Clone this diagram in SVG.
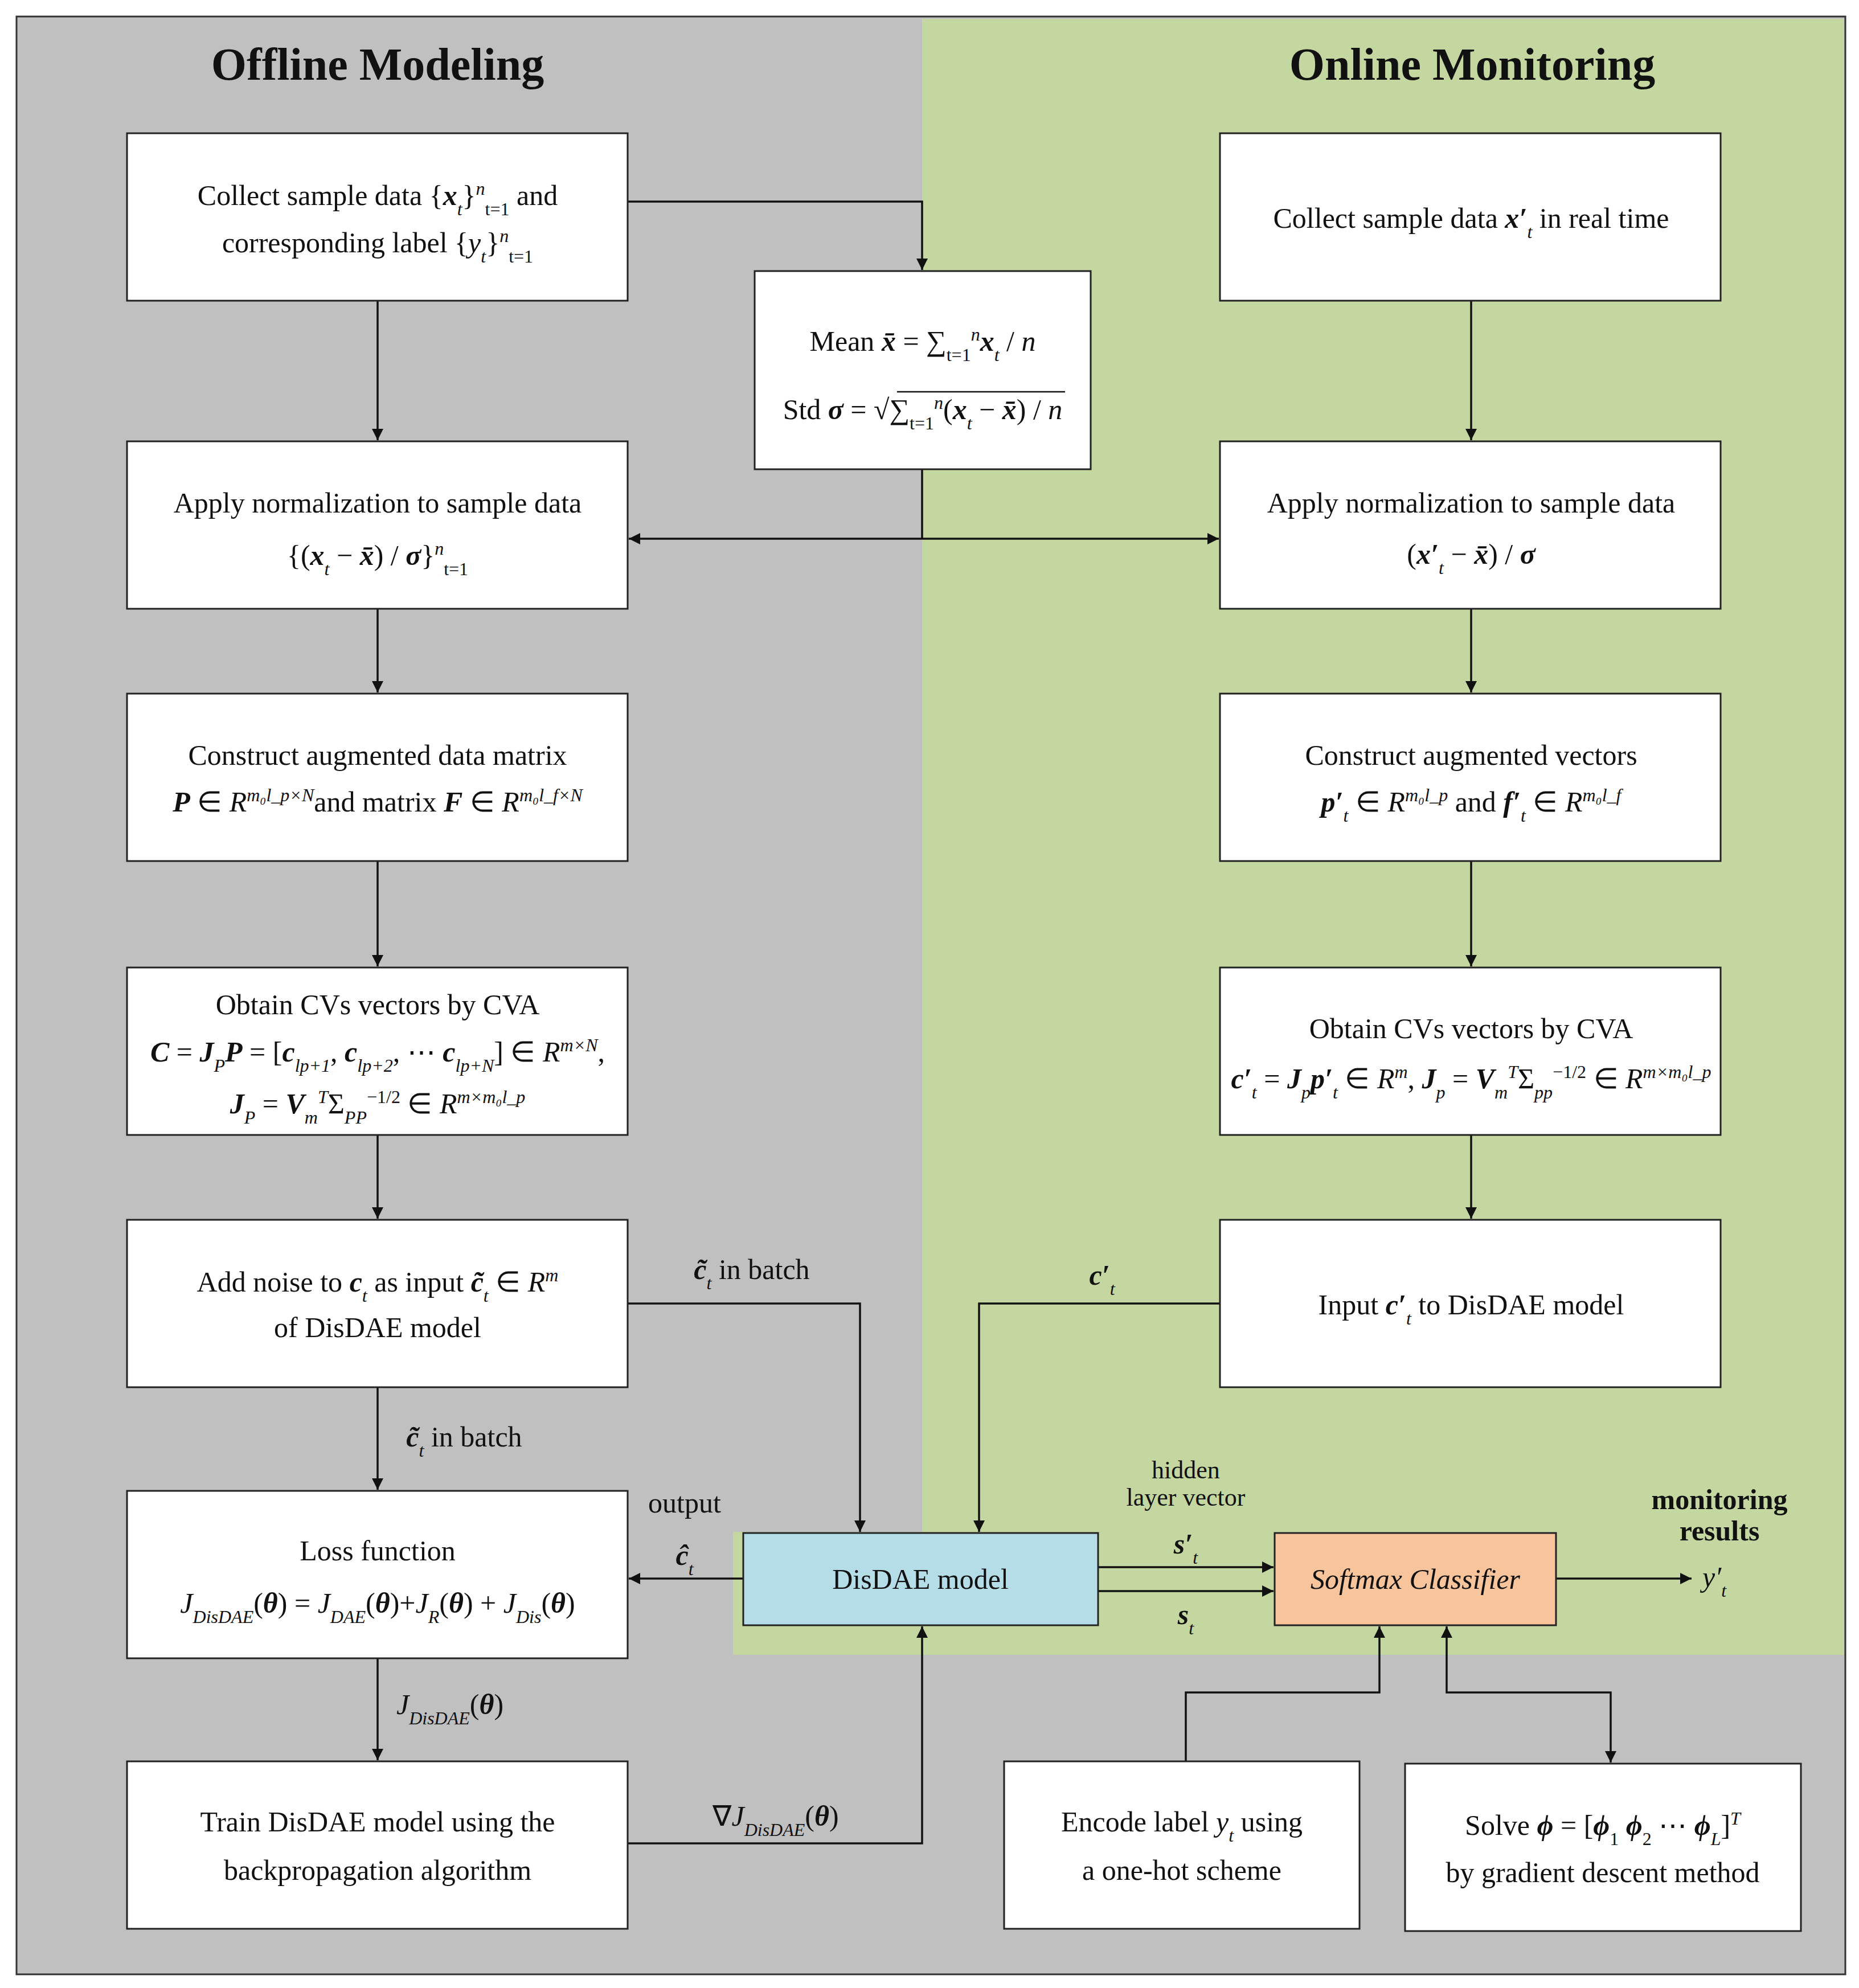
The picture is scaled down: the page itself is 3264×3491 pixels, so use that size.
<svg xmlns="http://www.w3.org/2000/svg" width="3264" height="3491" viewBox="0 0 3264 3491">
<style>
text{font-family:"Liberation Serif","Times New Roman",serif;font-size:50px;fill:#111;text-anchor:middle}
.t{font-size:80px;font-weight:bold}
.b{font-weight:bold;font-style:italic}
.i{font-style:italic}
.s{font-size:32px}
.h{font-size:44px}
.box{fill:#fff;stroke:#222;stroke-width:3}
.c{fill:none;stroke:#111;stroke-width:3.5}
</style>
<defs>
<marker id="a" viewBox="0 0 10 10" refX="10" refY="5" markerWidth="24" markerHeight="20" markerUnits="userSpaceOnUse" orient="auto-start-reverse"><path d="M0,0L10,5L0,10z" fill="#111"/></marker>
</defs>
<rect x="29" y="29" width="3211" height="3438" fill="#c0c0c0" stroke="#333" stroke-width="3"/>
<path d="M1619,33H3238V2906H1287V2690H1619z" fill="#c5d7a1"/>
<text class="t" x="663" y="140">Offline Modeling</text>
<text class="t" x="2585" y="140">Online Monitoring</text>
<g id="connectors">
<path class="c" d="M1102,354H1619V474" marker-end="url(#a)"/>
<path class="c" d="M663,528V773" marker-end="url(#a)"/>
<path class="c" d="M1619,824V946"/>
<path class="c" d="M1104,946H2140" marker-start="url(#a)" marker-end="url(#a)"/>
<path class="c" d="M663,1069V1216" marker-end="url(#a)"/>
<path class="c" d="M663,1512V1697" marker-end="url(#a)"/>
<path class="c" d="M663,1993V2140" marker-end="url(#a)"/>
<path class="c" d="M663,2436V2616" marker-end="url(#a)"/>
<path class="c" d="M663,2912V3091" marker-end="url(#a)"/>
<path class="c" d="M2583,528V773" marker-end="url(#a)"/>
<path class="c" d="M2583,1069V1216" marker-end="url(#a)"/>
<path class="c" d="M2583,1512V1697" marker-end="url(#a)"/>
<path class="c" d="M2583,1993V2140" marker-end="url(#a)"/>
<path class="c" d="M1102,2289H1510V2690" marker-end="url(#a)"/>
<path class="c" d="M2142,2289H1719V2690" marker-end="url(#a)"/>
<path class="c" d="M1305,2772H1104" marker-end="url(#a)"/>
<path class="c" d="M1102,3237H1619V2856" marker-end="url(#a)"/>
<path class="c" d="M1928,2752H2236" marker-end="url(#a)"/>
<path class="c" d="M1928,2794H2236" marker-end="url(#a)"/>
<path class="c" d="M2732,2772H2970" marker-end="url(#a)"/>
<path class="c" d="M2082,3093V2972H2422V2856" marker-end="url(#a)"/>
<path class="c" d="M2540,2856V2972H2828V3095" marker-start="url(#a)" marker-end="url(#a)"/>
<text x="1320" y="2246"><tspan class="b">c̃</tspan><tspan class="i s" baseline-shift="sub">t</tspan> in batch</text>
<text x="1935" y="2256"><tspan class="b">c′</tspan><tspan class="i s" baseline-shift="sub">t</tspan></text>
<text x="815" y="2540"><tspan class="b">c̃</tspan><tspan class="i s" baseline-shift="sub">t</tspan> in batch</text>
<text x="1202" y="2656">output</text>
<text x="1202" y="2748"><tspan class="b">ĉ</tspan><tspan class="i s" baseline-shift="sub">t</tspan></text>
<text x="790" y="3010"><tspan class="i">J</tspan><tspan class="i s" baseline-shift="sub">DisDAE</tspan>(<tspan class="b">θ</tspan>)</text>
<text x="1362" y="3206">∇<tspan class="i">J</tspan><tspan class="i s" baseline-shift="sub">DisDAE</tspan>(<tspan class="b">θ</tspan>)</text>
<text class="h" x="2082" y="2596">hidden</text>
<text class="h" x="2082" y="2644">layer vector</text>
<text x="2082" y="2728"><tspan class="b">s′</tspan><tspan class="i s" baseline-shift="sub">t</tspan></text>
<text x="2082" y="2852"><tspan class="b">s</tspan><tspan class="i s" baseline-shift="sub">t</tspan></text>
<text x="3019" y="2650" font-weight="bold">monitoring</text>
<text x="3019" y="2705" font-weight="bold">results</text>
<text x="3010" y="2786"><tspan class="i">y′</tspan><tspan class="i s" baseline-shift="sub">t</tspan></text>
</g>
<g id="n1"><rect class="box" x="223" y="234" width="879" height="294"/>
<text x="663" y="360">Collect sample data {<tspan class="b">x</tspan><tspan class="i s" baseline-shift="sub">t</tspan>}<tspan class="i s" baseline-shift="super">n</tspan><tspan class="s" baseline-shift="sub">t=1</tspan> and</text>
<text x="663" y="443">corresponding label {<tspan class="i">y</tspan><tspan class="i s" baseline-shift="sub">t</tspan>}<tspan class="i s" baseline-shift="super">n</tspan><tspan class="s" baseline-shift="sub">t=1</tspan></text></g>
<g id="mean"><rect class="box" x="1325" y="476" width="590" height="348"/>
<text x="1620" y="616">Mean <tspan class="b">x̄</tspan> = ∑<tspan class="s" baseline-shift="sub">t=1</tspan><tspan class="i s" baseline-shift="super">n</tspan><tspan class="b">x</tspan><tspan class="i s" baseline-shift="sub">t</tspan> / <tspan class="i">n</tspan></text>
<text x="1620" y="736">Std <tspan class="b">σ</tspan> = √∑<tspan class="s" baseline-shift="sub">t=1</tspan><tspan class="i s" baseline-shift="super">n</tspan>(<tspan class="b">x</tspan><tspan class="i s" baseline-shift="sub">t</tspan> − <tspan class="b">x̄</tspan>) / <tspan class="i">n</tspan></text>
<path d="M1575,688H1870" stroke="#111" stroke-width="2.5"/></g>
<g id="n2"><rect class="box" x="223" y="775" width="879" height="294"/>
<text x="663" y="900">Apply normalization to sample data</text>
<text x="663" y="992">{(<tspan class="b">x</tspan><tspan class="i s" baseline-shift="sub">t</tspan> − <tspan class="b">x̄</tspan>) / <tspan class="b">σ</tspan>}<tspan class="i s" baseline-shift="super">n</tspan><tspan class="s" baseline-shift="sub">t=1</tspan></text></g>
<g id="n3"><rect class="box" x="223" y="1218" width="879" height="294"/>
<text x="663" y="1343">Construct augmented data matrix</text>
<text x="663" y="1425"><tspan class="b">P</tspan> ∈ <tspan class="i">R</tspan><tspan class="i s" baseline-shift="super">m₀l_p×N</tspan>and matrix <tspan class="b">F</tspan> ∈ <tspan class="i">R</tspan><tspan class="i s" baseline-shift="super">m₀l_f×N</tspan></text></g>
<g id="n4"><rect class="box" x="223" y="1699" width="879" height="294"/>
<text x="663" y="1781">Obtain CVs vectors by CVA</text>
<text x="663" y="1864"><tspan class="b">C</tspan> = <tspan class="b">J</tspan><tspan class="i s" baseline-shift="sub">P</tspan><tspan class="b">P</tspan> = [<tspan class="b">c</tspan><tspan class="i s" baseline-shift="sub">lp+1</tspan>, <tspan class="b">c</tspan><tspan class="i s" baseline-shift="sub">lp+2</tspan>, ⋯ <tspan class="b">c</tspan><tspan class="i s" baseline-shift="sub">lp+N</tspan>] ∈ <tspan class="i">R</tspan><tspan class="i s" baseline-shift="super">m×N</tspan>,</text>
<text x="663" y="1955"><tspan class="b">J</tspan><tspan class="i s" baseline-shift="sub">P</tspan> = <tspan class="b">V</tspan><tspan class="i s" baseline-shift="sub">m</tspan><tspan class="i s" baseline-shift="super">T</tspan>Σ<tspan class="i s" baseline-shift="sub">PP</tspan><tspan class="s" baseline-shift="super">−1/2</tspan> ∈ <tspan class="i">R</tspan><tspan class="i s" baseline-shift="super">m×m₀l_p</tspan></text></g>
<g id="n5"><rect class="box" x="223" y="2142" width="879" height="294"/>
<text x="663" y="2268">Add noise to <tspan class="b">c</tspan><tspan class="i s" baseline-shift="sub">t</tspan> as input <tspan class="b">c̃</tspan><tspan class="i s" baseline-shift="sub">t</tspan> ∈ <tspan class="i">R</tspan><tspan class="i s" baseline-shift="super">m</tspan></text>
<text x="663" y="2348">of DisDAE model</text></g>
<g id="n6"><rect class="box" x="223" y="2618" width="879" height="294"/>
<text x="663" y="2740">Loss function</text>
<text x="663" y="2832"><tspan class="i">J</tspan><tspan class="i s" baseline-shift="sub">DisDAE</tspan>(<tspan class="b">θ</tspan>) = <tspan class="i">J</tspan><tspan class="i s" baseline-shift="sub">DAE</tspan>(<tspan class="b">θ</tspan>)+<tspan class="i">J</tspan><tspan class="i s" baseline-shift="sub">R</tspan>(<tspan class="b">θ</tspan>) + <tspan class="i">J</tspan><tspan class="i s" baseline-shift="sub">Dis</tspan>(<tspan class="b">θ</tspan>)</text></g>
<g id="n7"><rect class="box" x="223" y="3093" width="879" height="294"/>
<text x="663" y="3216">Train DisDAE model using the</text>
<text x="663" y="3301">backpropagation algorithm</text></g>
<g id="r1"><rect class="box" x="2142" y="234" width="879" height="294"/>
<text x="2583" y="400">Collect sample data <tspan class="b">x′</tspan><tspan class="i s" baseline-shift="sub">t</tspan> in real time</text></g>
<g id="r2"><rect class="box" x="2142" y="775" width="879" height="294"/>
<text x="2583" y="900">Apply normalization to sample data</text>
<text x="2583" y="990">(<tspan class="b">x′</tspan><tspan class="i s" baseline-shift="sub">t</tspan> − <tspan class="b">x̄</tspan>) / <tspan class="b">σ</tspan></text></g>
<g id="r3"><rect class="box" x="2142" y="1218" width="879" height="294"/>
<text x="2583" y="1343">Construct augmented vectors</text>
<text x="2583" y="1425"><tspan class="b">p′</tspan><tspan class="i s" baseline-shift="sub">t</tspan> ∈ <tspan class="i">R</tspan><tspan class="i s" baseline-shift="super">m₀l_p</tspan> and  <tspan class="b">f′</tspan><tspan class="i s" baseline-shift="sub">t</tspan> ∈ <tspan class="i">R</tspan><tspan class="i s" baseline-shift="super">m₀l_f</tspan></text></g>
<g id="r4"><rect class="box" x="2142" y="1699" width="879" height="294"/>
<text x="2583" y="1823">Obtain CVs vectors by CVA</text>
<text x="2583" y="1911"><tspan class="b">c′</tspan><tspan class="i s" baseline-shift="sub">t</tspan> = <tspan class="b">J</tspan><tspan class="i s" baseline-shift="sub">p</tspan><tspan class="b">p′</tspan><tspan class="i s" baseline-shift="sub">t</tspan> ∈ <tspan class="i">R</tspan><tspan class="i s" baseline-shift="super">m</tspan>, <tspan class="b">J</tspan><tspan class="i s" baseline-shift="sub">p</tspan> = <tspan class="b">V</tspan><tspan class="i s" baseline-shift="sub">m</tspan><tspan class="i s" baseline-shift="super">T</tspan>Σ<tspan class="i s" baseline-shift="sub">pp</tspan><tspan class="s" baseline-shift="super">−1/2</tspan> ∈ <tspan class="i">R</tspan><tspan class="i s" baseline-shift="super">m×m₀l_p</tspan></text></g>
<g id="r5"><rect class="box" x="2142" y="2142" width="879" height="294"/>
<text x="2583" y="2308">Input <tspan class="b">c′</tspan><tspan class="i s" baseline-shift="sub">t</tspan> to DisDAE model</text></g>
<g id="disdae"><rect x="1305" y="2692" width="623" height="162" fill="#b4dde8" stroke="#222" stroke-width="3"/>
<text x="1616" y="2790">DisDAE model</text></g>
<g id="softmax"><rect x="2238" y="2692" width="494" height="162" fill="#f8c49c" stroke="#222" stroke-width="3"/>
<text class="i" x="2485" y="2790">Softmax Classifier</text></g>
<g id="encode"><rect class="box" x="1763" y="3093" width="624" height="294"/>
<text x="2075" y="3216">Encode label <tspan class="i">y</tspan><tspan class="i s" baseline-shift="sub">t</tspan> using</text>
<text x="2075" y="3301">a one-hot scheme</text></g>
<g id="solve"><rect class="box" x="2467" y="3097" width="695" height="294"/>
<text x="2814" y="3222">Solve <tspan class="b">ϕ</tspan> = [<tspan class="b">ϕ</tspan><tspan class="s" baseline-shift="sub">1</tspan>   <tspan class="b">ϕ</tspan><tspan class="s" baseline-shift="sub">2</tspan>   ⋯   <tspan class="b">ϕ</tspan><tspan class="i s" baseline-shift="sub">L</tspan>]<tspan class="i s" baseline-shift="super">T</tspan></text>
<text x="2814" y="3305">by gradient descent method</text></g>
</svg>
